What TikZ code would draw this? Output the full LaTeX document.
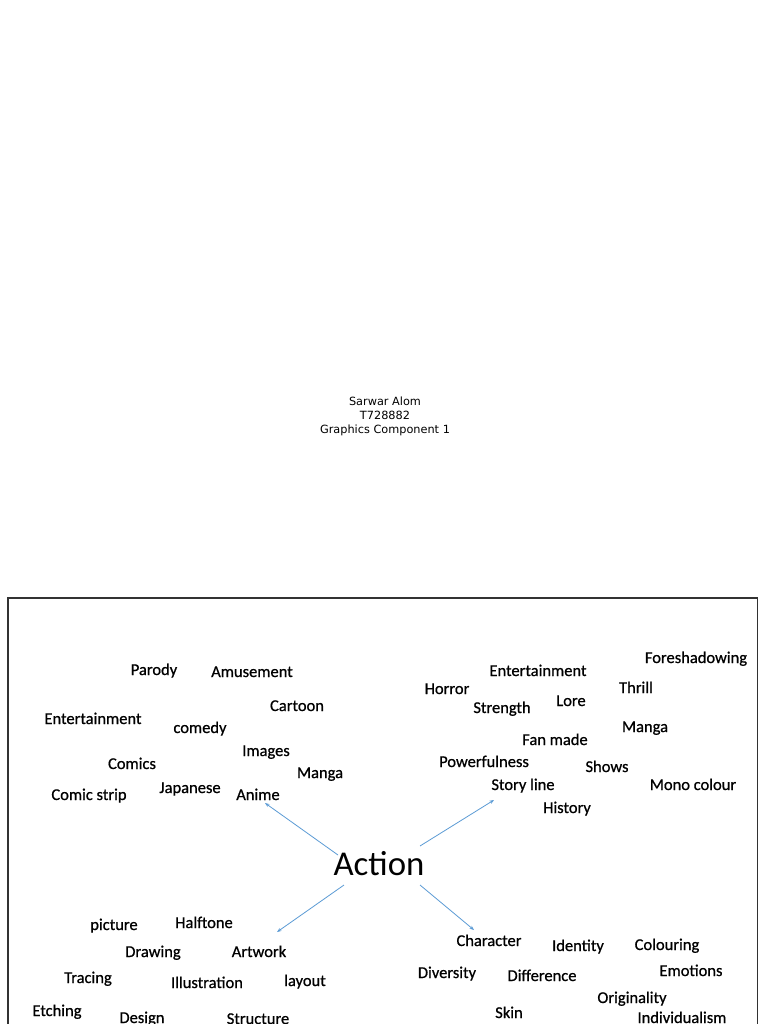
\documentclass[tikz,border=0pt]{standalone}
\usepackage{fontspec}
\setmainfont{Carlito}
\newfontfamily\wordfont[FakeBold=0.7]{Carlito}
\newfontfamily\topfont{DejaVu Sans}
\usetikzlibrary{arrows.meta}
\definecolor{arrblue}{RGB}{91,155,213}
\definecolor{framegray}{RGB}{50,50,50}
\begin{document}
\begin{tikzpicture}[x=1pt,y=-1pt,
  word/.style={anchor=base,inner sep=0pt,font=\wordfont\fontsize{16.5}{18}\selectfont},
  hub/.style={anchor=base,inner sep=0pt,font=\fontsize{34.8}{38}\selectfont},
  title/.style={anchor=base,inner sep=0pt,font=\topfont\fontsize{11.3}{13}\selectfont},
  arr/.style={draw=arrblue,line width=0.8pt,-{Stealth[length=4.5pt,width=3.5pt]}},
  frame/.style={draw=framegray,line width=1.2pt}]
\useasboundingbox (0,0) rectangle (768,1024);
\fill[white] (0,0) rectangle (768,1024);

% title block
\node[title] (t1) at (385,405) {Sarwar Alom};
\node[title] (t2) at (385,419) {T728882};
\node[title] (t3) at (385,433) {Graphics Component 1};

% frame
\draw[frame] (8,1030) -- (8,598) -- (757.5,598) -- (757.5,1030);

% hub
\node[hub] (action) at (379,875) {Action};

% top-left cluster
\node[word] (parody) at (154,675) {Parody};
\node[word] (amuse) at (252,677) {Amusement};
\node[word] (cartoon) at (297,711) {Cartoon};
\node[word] (ent1) at (93,724) {Entertainment};
\node[word] (comedy) at (200,733) {comedy};
\node[word] (images) at (266,756) {Images};
\node[word] (comics) at (132,769) {Comics};
\node[word] (manga1) at (320,778) {Manga};
\node[word] (strip) at (89,800) {Comic strip};
\node[word] (japan) at (190,793) {Japanese};
\node[word] (anime) at (258,800) {Anime};

% top-right cluster
\node[word] (foresh) at (696,663) {Foreshadowing};
\node[word] (ent2) at (538,676) {Entertainment};
\node[word] (horror) at (447,694) {Horror};
\node[word] (thrill) at (636,693) {Thrill};
\node[word] (strength) at (502,713) {Strength};
\node[word] (lore) at (571,706) {Lore};
\node[word] (manga2) at (645,732) {Manga};
\node[word] (fan) at (555,745) {Fan made};
\node[word] (power) at (484,767) {Powerfulness};
\node[word] (shows) at (607,772) {Shows};
\node[word] (story) at (523,790) {Story line};
\node[word] (mono) at (693,790) {Mono colour};
\node[word] (history) at (567,813) {History};

% bottom-left cluster
\node[word] (picture) at (114,930) {picture};
\node[word] (halftone) at (204,928) {Halftone};
\node[word] (drawing) at (153,957) {Drawing};
\node[word] (artwork) at (259,957) {Artwork};
\node[word] (tracing) at (88,983) {Tracing};
\node[word] (illus) at (207,988) {Illustration};
\node[word] (layout) at (305,986) {layout};
\node[word] (etching) at (57,1016) {Etching};
\node[word] (design) at (142,1023) {Design};
\node[word] (struct) at (258,1024) {Structure};

% bottom-right cluster
\node[word] (character) at (489,946) {Character};
\node[word] (identity) at (578,951) {Identity};
\node[word] (colouring) at (667,950) {Colouring};
\node[word] (diversity) at (447,978) {Diversity};
\node[word] (difference) at (542,981) {Difference};
\node[word] (emotions) at (691,976) {Emotions};
\node[word] (orig) at (632,1003) {Originality};
\node[word] (skin) at (509,1018) {Skin};
\node[word] (indiv) at (682,1023) {Individualism};

% arrow end points
\coordinate (sNW) at (338,855);
\coordinate (eNW) at (265,803);
\coordinate (sNE) at (420,846);
\coordinate (eNE) at (494,800);
\coordinate (sSW) at (344,885);
\coordinate (eSW) at (277,932);
\coordinate (sSE) at (420,885);
\coordinate (eSE) at (474,930);

\draw[arr] (sNW) -- (eNW);
\draw[arr] (sNE) -- (eNE);
\draw[arr] (sSW) -- (eSW);
\draw[arr] (sSE) -- (eSE);
\end{tikzpicture}
\end{document}
